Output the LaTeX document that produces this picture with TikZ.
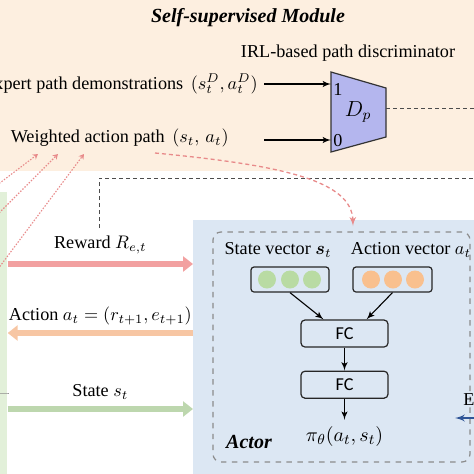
\documentclass[tikz,border=0pt]{standalone}
\usepackage{amsmath}
\usepackage{amssymb}
\usepackage{fontspec}
\setmainfont{Liberation Serif}
\setsansfont{Carlito}
\usetikzlibrary{shapes,arrows,arrows.meta,positioning,calc}
\newlength{\unitpx}
\setlength{\unitpx}{0.55pt}
\definecolor{peachbg}{RGB}{253,239,224}
\definecolor{actorbg}{RGB}{220,231,243}
\definecolor{envgreen}{RGB}{226,240,217}
\definecolor{rewardpink}{RGB}{242,160,160}
\definecolor{actionorange}{RGB}{247,198,163}
\definecolor{stategreen}{RGB}{189,215,174}
\definecolor{dotgreen}{RGB}{185,219,163}
\definecolor{dotorange}{RGB}{249,192,142}
\definecolor{discblue}{RGB}{180,182,238}
\definecolor{pinkline}{RGB}{232,138,138}
\definecolor{envblue}{RGB}{47,85,151}
\tikzset{
vecbox/.style = {draw=black!85, fill=actorbg, rectangle, rounded corners=3\unitpx, line width=1.2\unitpx},
fcbox/.style = {draw=black!85, fill=actorbg, rectangle, rounded corners=4\unitpx, line width=1.2\unitpx, minimum width=87\unitpx, minimum height=27\unitpx, font=\sffamily\fontsize{10}{12}\selectfont},
dotnode/.style = {circle, minimum size=18\unitpx, inner sep=0pt},
bigarrow/.style = {line width=3.3pt, -{Triangle[length=5.5pt, width=8.3pt]}},
darkdash/.style = {draw=black!70, line width=1\unitpx, dash pattern=on 4\unitpx off 3\unitpx},
pinkdash/.style = {draw=pinkline, line width=1.3\unitpx, dash pattern=on 4\unitpx off 3\unitpx},
pinkdot/.style = {draw=pinkline, line width=1.1\unitpx, dash pattern=on 1.5\unitpx off 1.5\unitpx, -{Stealth[length=2.8pt, width=3.3pt, open]}},
actorframe/.style = {draw=black!45, dashed, rounded corners=8\unitpx, line width=1.2\unitpx, inner sep=0pt},
heading/.style = {font=\bfseries\itshape\fontsize{11}{13}\selectfont}
}
\begin{document}
\begin{tikzpicture}[x=\unitpx, y=-\unitpx, >=latex', font=\fontsize{10}{12}\selectfont]
\clip (0,0) rectangle (474,474);
% backgrounds
\fill[peachbg] (0,0) rectangle (474,171);
\node[fill=actorbg, anchor=north west, inner sep=0pt, minimum width=290\unitpx, minimum height=260\unitpx] (agent) at (193,220) {};
\node[fill=envgreen, anchor=north west, inner sep=0pt, minimum width=7\unitpx, minimum height=290\unitpx] (env) at (0,192) {};
% self-supervised module
\node[heading] (title) at (248,18) {Self-supervised Module};
\node (irl) at (348,53) {IRL-based path discriminator};
\node[anchor=east] (expert) at (264,84) {Expert path demonstrations \,$(s_t^D, a_t^D)$};
\node[anchor=east] (weighted) at (235,138) {Weighted action path \,$(s_t,\, a_t)$};
\draw[fill=discblue, draw=black!80, line width=1.2\unitpx] (331,72) -- (386,88) -- (386,137) -- (331,152) -- cycle;
\coordinate (in1) at (331,84);
\coordinate (in0) at (331,140);
\coordinate (dout) at (386,108);
\coordinate (doutR) at (480,108);
\node[font=\fontsize{12}{14}\selectfont] (disc) at (358,112) {$D_p$};
\node (one) at (338,89) {1};
\node (zero) at (338,141) {0};
\draw[->, line width=0.6pt] (expert) -- (in1);
\draw[->, line width=0.6pt] (expert.east |- in0) -- (in0);
\draw[darkdash] (dout) -- (doutR);
% feedback lines
\coordinate (fb1) at (99,228);
\coordinate (fb2) at (480,178);
\draw[darkdash] (fb1) |- (fb2);
\coordinate (pk1) at (155,153);
\coordinate (pk2) at (353,226);
\draw[pinkdash, ->] (pk1) .. controls (280,165) and (352,180) .. (pk2);
\foreach \tx/\ty/\hx in {-20/198/38, -20/232/58, -20/293/84}{
  \coordinate (pt) at (\tx,\ty);
  \coordinate (ph) at (\hx,154);
  \draw[pinkdot] (pt) -- (ph);
}
\coordinate (gmark) at (0,393);
\draw[black!45, line width=1\unitpx] (gmark) -- (env.east |- gmark) -- ++(1,0);
% environment <-> agent
\coordinate (rw) at (0,264);
\coordinate (ac) at (0,333);
\coordinate (st) at (0,409);
\draw[bigarrow, rewardpink] (env.east |- rw) -- node[midway, yshift=10.5pt, text=black] {Reward $R_{e,t}$} (agent.west |- rw);
\draw[bigarrow, actionorange] (agent.west |- ac) -- node[midway, yshift=9.4pt, text=black] {Action $a_t=(r_{t+1}, e_{t+1})$} (env.east |- ac);
\draw[bigarrow, stategreen] (env.east |- st) -- node[midway, yshift=9.4pt, text=black] {State $s_t$} (agent.west |- st);
% actor
\node[actorframe, minimum width=257\unitpx, minimum height=230\unitpx] (actorbox) at (341.5,347) {};
\node (svlabel) at (278,250) {State vector $\boldsymbol{s}_t$};
\node (avlabel) at (411,250) {Action vector $a_t$};
\node[vecbox, minimum width=78\unitpx, minimum height=25\unitpx] (vecS) at (290,279.5) {};
\node[vecbox, minimum width=79\unitpx, minimum height=25\unitpx] (vecA) at (392.5,279.5) {};
\foreach \i/\x in {1/267,2/290,3/312}
  \node[dotnode, fill=dotgreen] (s\i) at (\x,279.5) {};
\foreach \i/\x in {1/371,2/393,3/415}
  \node[dotnode, fill=dotorange] (a\i) at (\x,279.5) {};
\node[fcbox] (fc1) at (344.5,333.5) {FC};
\node[fcbox, below=23\unitpx of fc1] (fc2) {FC};
\node[below=21\unitpx of fc2, font=\fontsize{11}{13}\selectfont] (pol) {$\pi_\theta(a_t, s_t)$};
\draw[->, line width=0.6pt] (vecS.south) -- ($(fc1.north)+(-21,0)$);
\draw[->, line width=0.6pt] (vecA.south) -- ($(fc1.north)+(22,0)$);
\draw[->, line width=0.6pt] (fc1) -- (fc2);
\draw[->, line width=0.6pt] (fc2) -- (pol);
\node[heading] (actorlbl) at (249,442) {Actor};
% right edge
\node[anchor=west] (envtxt) at (457,400) {E};
\coordinate (eR) at (480,418);
\coordinate (eL) at (455,418);
\draw[->, envblue, line width=1.6\unitpx] (eR) -- (eL);
\end{tikzpicture}
\end{document}
